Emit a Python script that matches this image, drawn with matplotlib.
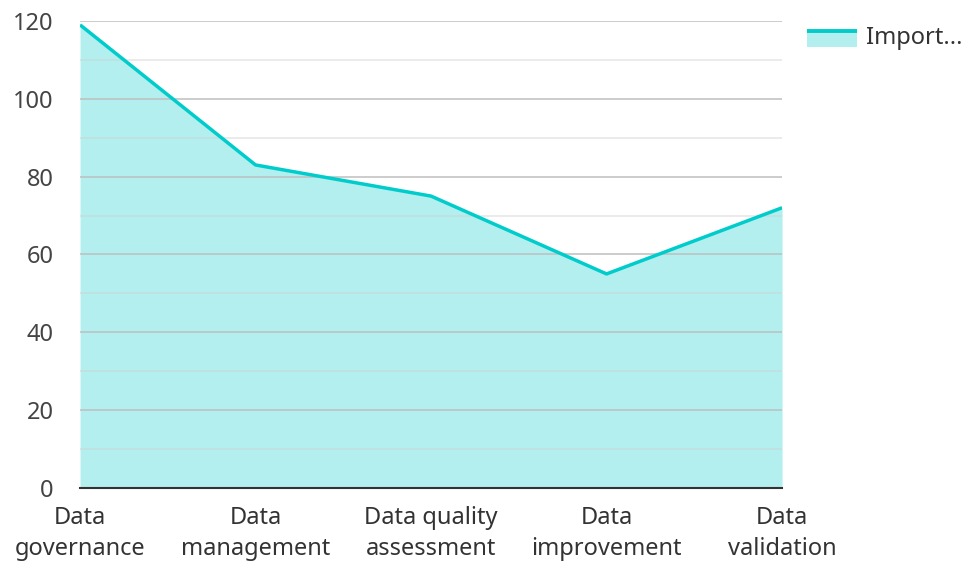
import matplotlib
matplotlib.use('Agg')
import matplotlib.pyplot as plt
from matplotlib.patches import Rectangle
from matplotlib.lines import Line2D
from matplotlib.legend_handler import HandlerBase

plt.rcParams['font.family'] = ['Noto Sans', 'DejaVu Sans']

categories = ['Data\ngovernance', 'Data\nmanagement', 'Data quality\nassessment',
              'Data\nimprovement', 'Data\nvalidation']
importance = [119, 83, 75, 55, 72]
series_name = 'Import...'

line_col = '#00CCCC'
fill_col = '#B2EFEE'


class AreaHandler(HandlerBase):
    # fill patch with the line along its top edge
    def create_artists(self, legend, orig_handle, xd, yd, width, height, fontsize, trans):
        top = yd + height * 0.95
        rect = Rectangle((xd, yd - height * 0.1), width, height * 1.05,
                         facecolor=fill_col, edgecolor='none', transform=trans)
        ln = Line2D([xd, xd + width], [top, top], color=line_col, linewidth=2.8,
                    solid_capstyle='butt', transform=trans)
        return [rect, ln]


fig = plt.figure(figsize=(9.69, 5.62), dpi=100)
ax = fig.add_axes([0.0826, 0.1317, 0.7245, 0.831])

x = range(len(categories))
ax.fill_between(x, importance, 0, color=fill_col, linewidth=0, zorder=1)
ax.plot(x, importance, color=line_col, linewidth=2.5, zorder=3, solid_capstyle='butt')

ax.set_xlim(0, len(categories) - 1)
ax.set_ylim(0, 120)
ax.set_yticks(range(0, 121, 20))
ax.set_yticks(range(10, 120, 20), minor=True)
ax.grid(True, which='major', axis='y', color='#bdbdbd', linewidth=1.2, alpha=0.9, zorder=2)
ax.grid(True, which='minor', axis='y', color='#d0d0d0', linewidth=1.2, alpha=0.5, zorder=2)
ax.set_axisbelow(False)

for s in ['top', 'right', 'left']:
    ax.spines[s].set_visible(False)
ax.spines['bottom'].set_color('#333333')
ax.spines['bottom'].set_linewidth(1.5)
ax.spines['bottom'].set_zorder(4)

ax.set_xticks(list(x))
ax.set_xticklabels(categories, fontsize=17, color='#333333', linespacing=1.4)
ax.tick_params(axis='x', length=0, pad=13)
ax.tick_params(axis='y', which='both', length=0, pad=19, labelsize=17, labelcolor='#444444')

leg = fig.legend([object()], [series_name], loc='upper left',
                 bbox_to_anchor=(0.833, 0.953), frameon=False, fontsize=17,
                 borderpad=0, borderaxespad=0,
                 handlelength=2.1, handleheight=0.6, handletextpad=0.38,
                 handler_map={object: AreaHandler()})
for t in leg.get_texts():
    t.set_color('#333333')

fig.savefig('out.png', dpi=100)
